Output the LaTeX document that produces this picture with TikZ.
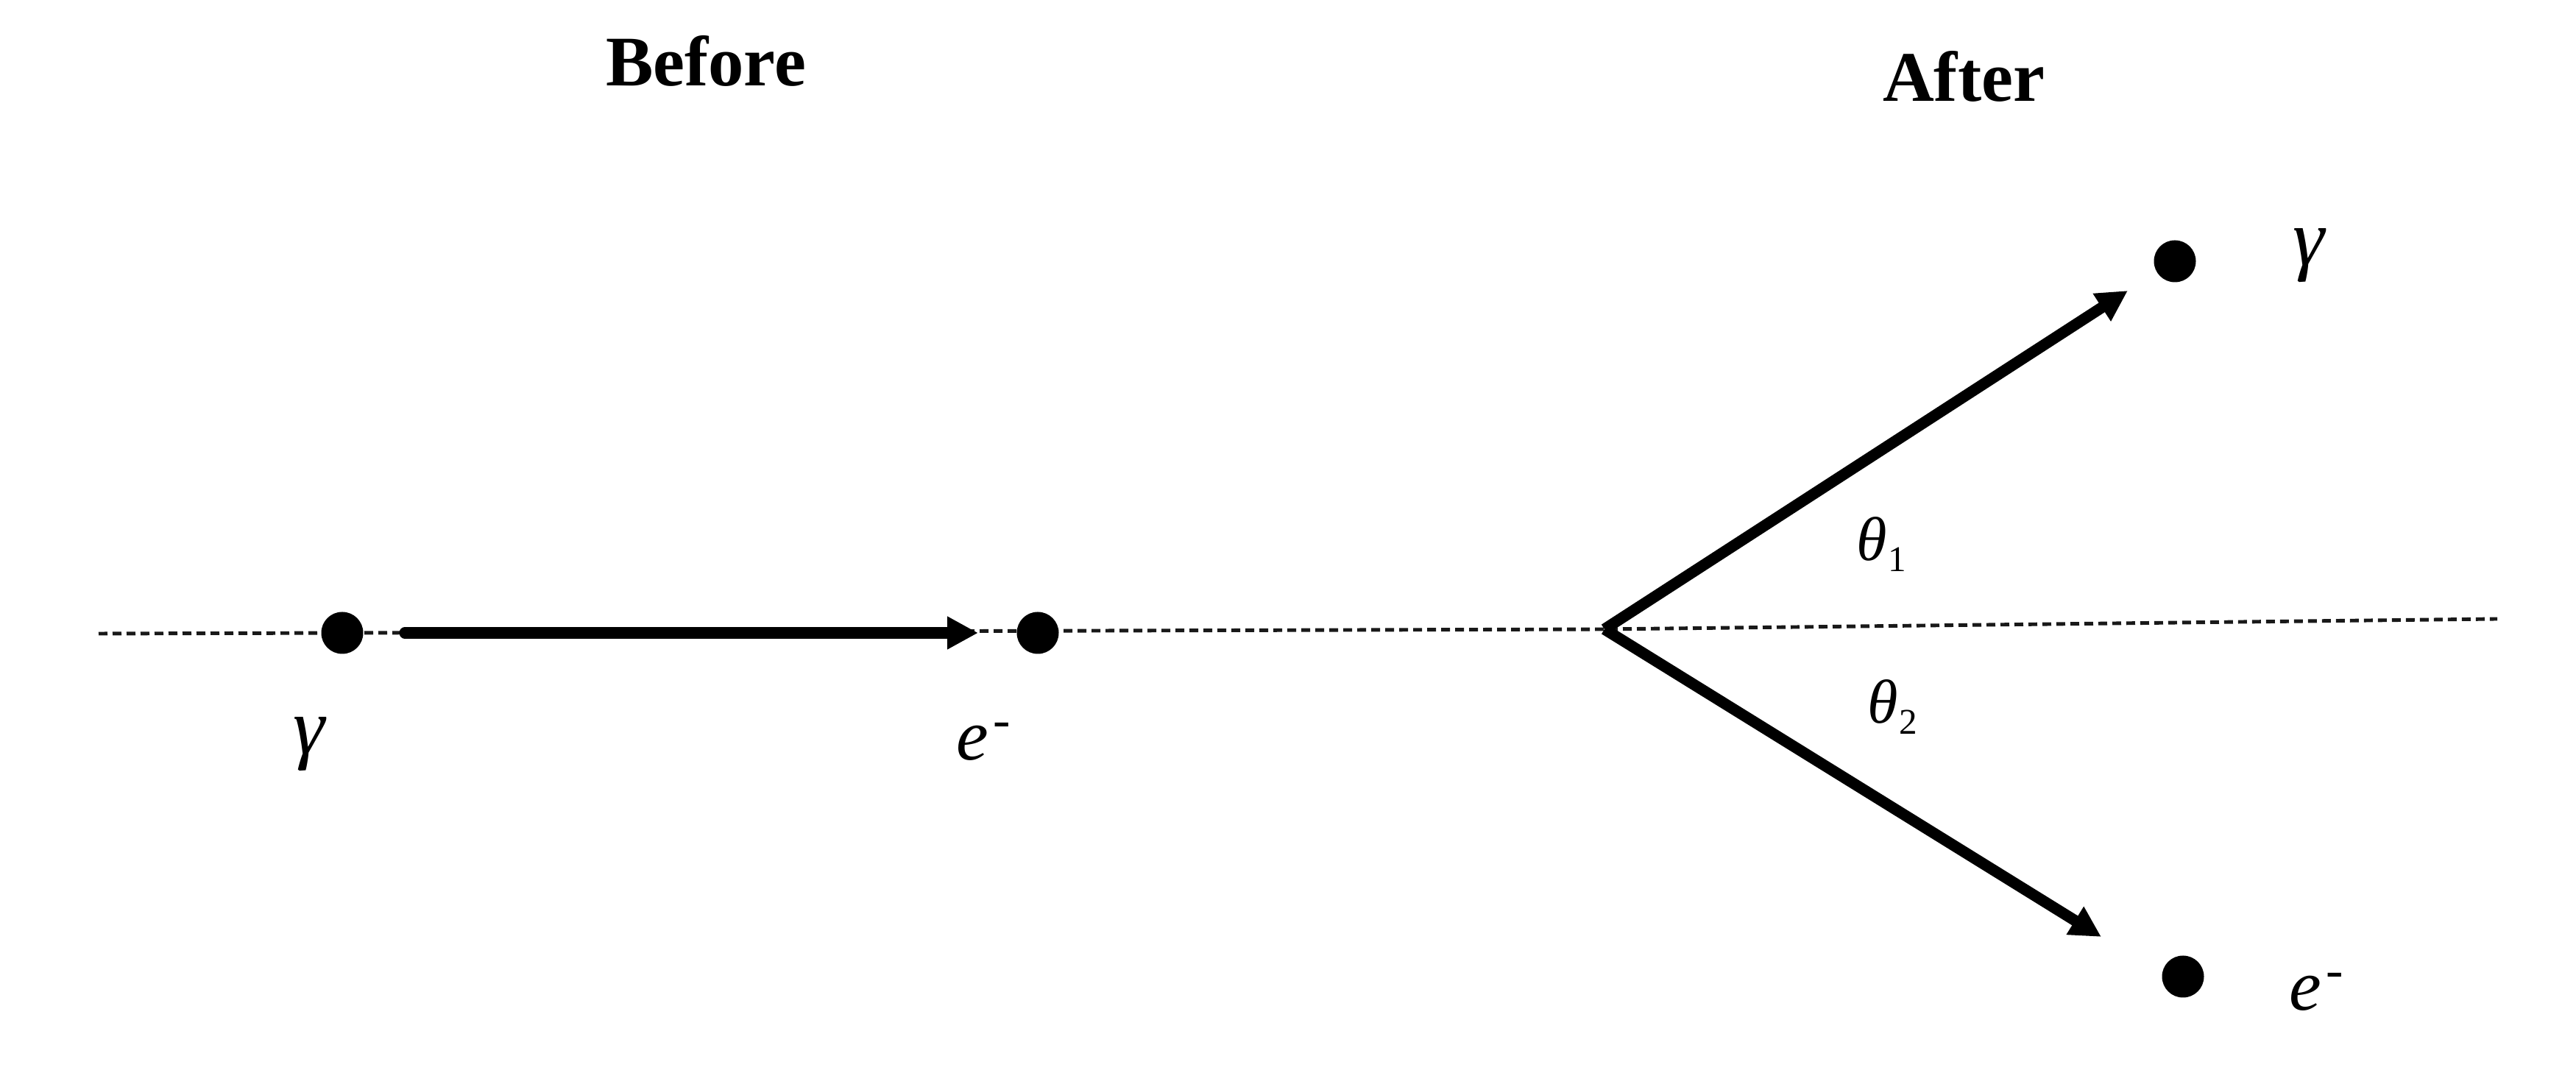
\documentclass[tikz,border=0pt]{standalone}
\usepackage{fontspec}
\setmainfont{Liberation Serif}
\usetikzlibrary{arrows.meta}
\newcommand{\elec}{{\fontsize{28}{28}\selectfont\itshape e}\kern0.06cm\raisebox{0.31cm}{\fontsize{20}{20}\selectfont -}}
\newcommand{\angl}[1]{{\fontsize{24}{24}\selectfont\itshape θ}\kern0.01cm\raisebox{-0.15cm}{\fontsize{14}{14}\selectfont #1}}
\tikzset{
  dot/.style={circle,fill=black,inner sep=0pt,minimum size=0.57cm},
  axis/.style={line width=1.4pt,dash pattern=on 0.12cm off 0.07cm,black!90},
  momentum/.style={line width=4.3pt,line cap=round,-{Triangle[length=0.42cm,width=0.42cm]}},
  title/.style={font=\fontsize{27.5}{30}\selectfont\bfseries,anchor=base},
  sym/.style={font=\fontsize{31}{31}\selectfont\itshape,inner sep=0pt},
  lbl/.style={inner sep=0pt,anchor=base west}
}
\begin{document}
\begin{tikzpicture}
\useasboundingbox (0,0) rectangle (35,14.58);
% titles
\node[title] (before) at (9.59,13.41) {Before};
\node[title] (after) at (26.68,13.20) {After};
% axis
\coordinate (axl) at (1.34,5.97);
\coordinate (v) at (21.80,6.03);
\coordinate (axr) at (33.93,6.17);
\draw[axis] (axl) -- (v) -- (axr);
% before
\node[dot] (g1) at (4.65,5.98) {};
\node[dot] (e1) at (14.10,5.98) {};
\draw[momentum,shorten <=0.85cm,shorten >=0.81cm] (g1.center) -- (e1.center);
\node[sym] (lg1) at (4.20,4.47) {γ};
\node[lbl] (le1) at (12.99,4.25) {\elec};
% after
\node[dot] (g2) at (29.55,11.03) {};
\node[dot] (e2) at (29.66,1.31) {};
\coordinate (t1) at (28.91,10.63);
\coordinate (t2) at (28.55,1.85);
\draw[momentum,line cap=butt] (v) -- (t1);
\draw[momentum,line cap=butt] (v) -- (t2);
\node[sym] (lg2) at (31.37,11.11) {γ};
\node[lbl] (le2) at (31.10,0.85) {\elec};
\node[lbl] (th1) at (25.22,6.96) {\angl{1}};
\node[lbl] (th2) at (25.37,4.75) {\angl{2}};
\end{tikzpicture}
\end{document}
